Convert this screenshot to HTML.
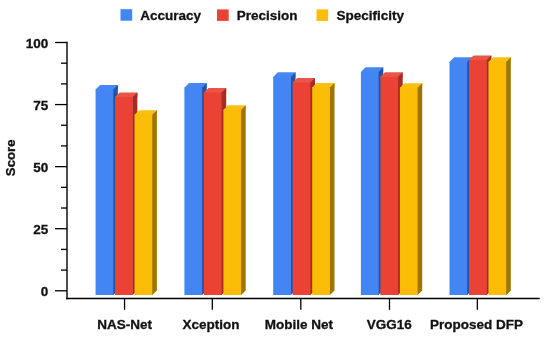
<!DOCTYPE html>
<html><head><meta charset="utf-8"><style>
html,body{margin:0;padding:0;background:#fff;}
body{width:550px;height:338px;overflow:hidden;}
svg{display:block;}
text{font-family:"Liberation Sans",Arial,sans-serif;font-weight:bold;font-size:13.5px;fill:#111;stroke:#111;stroke-width:0.3px;}
</style></head><body>
<svg width="550" height="338" viewBox="0 0 550 338">
<rect width="550" height="338" fill="#fff"/>
<rect x="120.5" y="9.2" width="11.7" height="11.5" fill="#4385f3"/>
<text x="140.3" y="19.6">Accuracy</text>
<rect x="217" y="9.4" width="11.7" height="11.5" fill="#ea4335"/>
<text x="236.8" y="19.6">Precision</text>
<rect x="316.5" y="9.4" width="11.7" height="11.5" fill="#fbbc05"/>
<text x="336.4" y="19.6">Specificity</text>
<text transform="translate(14.8,157.8) rotate(-90)" text-anchor="middle" style="font-size:13.2px">Score</text>
<polygon points="95.56,90.1 95.56,89.5 100.16,84.9 117.86,84.9 117.86,90.1" fill="#4787f2"/>
<polygon points="112.66,89.5 113.26,89.5 117.86,84.9 117.86,290.4 113.26,295 112.66,295" fill="#2553a3"/>
<rect x="95.56" y="89.5" width="17.7" height="205.5" fill="#4385f3"/>
<polygon points="115.06,97.6 115.06,97 119.66,92.4 137.36,92.4 137.36,97.6" fill="#eb5449"/>
<polygon points="132.16,97 132.76,97 137.36,92.4 137.36,290.4 132.76,295 132.16,295" fill="#a42d25"/>
<rect x="115.06" y="97" width="17.7" height="198" fill="#ea4335"/>
<polygon points="134.56,115.4 134.56,114.8 139.16,110.2 156.86,110.2 156.86,115.4" fill="#fbbf10"/>
<polygon points="151.66,114.8 152.26,114.8 156.86,110.2 156.86,290.4 152.26,295 151.66,295" fill="#9d7600"/>
<rect x="134.56" y="114.8" width="17.7" height="180.2" fill="#fbbc05"/>
<polygon points="184.4,88.3 184.4,87.7 189,83.1 206.7,83.1 206.7,88.3" fill="#4787f2"/>
<polygon points="201.5,87.7 202.1,87.7 206.7,83.1 206.7,290.4 202.1,295 201.5,295" fill="#2553a3"/>
<rect x="184.4" y="87.7" width="17.7" height="207.3" fill="#4385f3"/>
<polygon points="203.9,93.1 203.9,92.5 208.5,87.9 226.2,87.9 226.2,93.1" fill="#eb5449"/>
<polygon points="221,92.5 221.6,92.5 226.2,87.9 226.2,290.4 221.6,295 221,295" fill="#a42d25"/>
<rect x="203.9" y="92.5" width="17.7" height="202.5" fill="#ea4335"/>
<polygon points="223.4,110.5 223.4,109.9 228,105.3 245.7,105.3 245.7,110.5" fill="#fbbf10"/>
<polygon points="240.5,109.9 241.1,109.9 245.7,105.3 245.7,290.4 241.1,295 240.5,295" fill="#9d7600"/>
<rect x="223.4" y="109.9" width="17.7" height="185.1" fill="#fbbc05"/>
<polygon points="273.2,77.5 273.2,76.9 277.8,72.3 295.5,72.3 295.5,77.5" fill="#4787f2"/>
<polygon points="290.3,76.9 290.9,76.9 295.5,72.3 295.5,290.4 290.9,295 290.3,295" fill="#2553a3"/>
<rect x="273.2" y="76.9" width="17.7" height="218.1" fill="#4385f3"/>
<polygon points="292.7,83.2 292.7,82.6 297.3,78 315,78 315,83.2" fill="#eb5449"/>
<polygon points="309.8,82.6 310.4,82.6 315,78 315,290.4 310.4,295 309.8,295" fill="#a42d25"/>
<rect x="292.7" y="82.6" width="17.7" height="212.4" fill="#ea4335"/>
<polygon points="312.2,88.2 312.2,87.6 316.8,83 334.5,83 334.5,88.2" fill="#fbbf10"/>
<polygon points="329.3,87.6 329.9,87.6 334.5,83 334.5,290.4 329.9,295 329.3,295" fill="#9d7600"/>
<rect x="312.2" y="87.6" width="17.7" height="207.4" fill="#fbbc05"/>
<polygon points="360.9,72.5 360.9,71.9 365.5,67.3 383.2,67.3 383.2,72.5" fill="#4787f2"/>
<polygon points="378,71.9 378.6,71.9 383.2,67.3 383.2,290.4 378.6,295 378,295" fill="#2553a3"/>
<rect x="360.9" y="71.9" width="17.7" height="223.1" fill="#4385f3"/>
<polygon points="380.4,77.4 380.4,76.8 385,72.2 402.7,72.2 402.7,77.4" fill="#eb5449"/>
<polygon points="397.5,76.8 398.1,76.8 402.7,72.2 402.7,290.4 398.1,295 397.5,295" fill="#a42d25"/>
<rect x="380.4" y="76.8" width="17.7" height="218.2" fill="#ea4335"/>
<polygon points="399.9,88.4 399.9,87.8 404.5,83.2 422.2,83.2 422.2,88.4" fill="#fbbf10"/>
<polygon points="417,87.8 417.6,87.8 422.2,83.2 422.2,290.4 417.6,295 417,295" fill="#9d7600"/>
<rect x="399.9" y="87.8" width="17.7" height="207.2" fill="#fbbc05"/>
<polygon points="449.5,62.5 449.5,61.9 454.1,57.3 471.8,57.3 471.8,62.5" fill="#4787f2"/>
<polygon points="466.6,61.9 467.2,61.9 471.8,57.3 471.8,290.4 467.2,295 466.6,295" fill="#2553a3"/>
<rect x="449.5" y="61.9" width="17.7" height="233.1" fill="#4385f3"/>
<polygon points="469,60.6 469,60 473.6,55.4 491.3,55.4 491.3,60.6" fill="#eb5449"/>
<polygon points="486.1,60 486.7,60 491.3,55.4 491.3,290.4 486.7,295 486.1,295" fill="#a42d25"/>
<rect x="469" y="60" width="17.7" height="235" fill="#ea4335"/>
<polygon points="488.5,62.5 488.5,61.9 493.1,57.3 510.8,57.3 510.8,62.5" fill="#fbbf10"/>
<polygon points="505.6,61.9 506.2,61.9 510.8,57.3 510.8,290.4 506.2,295 505.6,295" fill="#9d7600"/>
<rect x="488.5" y="61.9" width="17.7" height="233.1" fill="#fbbc05"/>
<line x1="67" y1="41.8" x2="67" y2="299.2" stroke="#000" stroke-width="1.4"/>
<line x1="66.2" y1="298.4" x2="539.7" y2="298.4" stroke="#000" stroke-width="1.5"/>
<line x1="55" y1="42.5" x2="67" y2="42.5" stroke="#000" stroke-width="1.3"/>
<text x="48.2" y="47.6" text-anchor="end">100</text>
<line x1="61" y1="63.19" x2="67" y2="63.19" stroke="#000" stroke-width="1.3"/>
<line x1="61" y1="83.88" x2="67" y2="83.88" stroke="#000" stroke-width="1.3"/>
<line x1="55" y1="104.57" x2="67" y2="104.57" stroke="#000" stroke-width="1.3"/>
<text x="48.2" y="109.67" text-anchor="end">75</text>
<line x1="61" y1="125.26" x2="67" y2="125.26" stroke="#000" stroke-width="1.3"/>
<line x1="61" y1="145.95" x2="67" y2="145.95" stroke="#000" stroke-width="1.3"/>
<line x1="55" y1="166.64" x2="67" y2="166.64" stroke="#000" stroke-width="1.3"/>
<text x="48.2" y="171.74" text-anchor="end">50</text>
<line x1="61" y1="187.33" x2="67" y2="187.33" stroke="#000" stroke-width="1.3"/>
<line x1="61" y1="208.02" x2="67" y2="208.02" stroke="#000" stroke-width="1.3"/>
<line x1="55" y1="228.71" x2="67" y2="228.71" stroke="#000" stroke-width="1.3"/>
<text x="48.2" y="233.81" text-anchor="end">25</text>
<line x1="61" y1="249.4" x2="67" y2="249.4" stroke="#000" stroke-width="1.3"/>
<line x1="61" y1="270.09" x2="67" y2="270.09" stroke="#000" stroke-width="1.3"/>
<line x1="55" y1="290.78" x2="67" y2="290.78" stroke="#000" stroke-width="1.3"/>
<text x="48.2" y="295.88" text-anchor="end">0</text>
<line x1="124.56" y1="298.4" x2="124.56" y2="309.8" stroke="#000" stroke-width="1.3"/>
<text x="124.6" y="328.5" text-anchor="middle">NAS-Net</text>
<line x1="212.33" y1="298.4" x2="212.33" y2="309.8" stroke="#000" stroke-width="1.3"/>
<text x="211.1" y="328.5" text-anchor="middle">Xception</text>
<line x1="300.8" y1="298.4" x2="300.8" y2="309.8" stroke="#000" stroke-width="1.3"/>
<text x="298.9" y="328.5" text-anchor="middle">Mobile Net</text>
<line x1="389.49" y1="298.4" x2="389.49" y2="309.8" stroke="#000" stroke-width="1.3"/>
<text x="389.35" y="328.5" text-anchor="middle">VGG16</text>
<line x1="477.33" y1="298.4" x2="477.33" y2="309.8" stroke="#000" stroke-width="1.3"/>
<text x="476.55" y="328.5" text-anchor="middle">Proposed DFP</text>
</svg>
</body></html>
